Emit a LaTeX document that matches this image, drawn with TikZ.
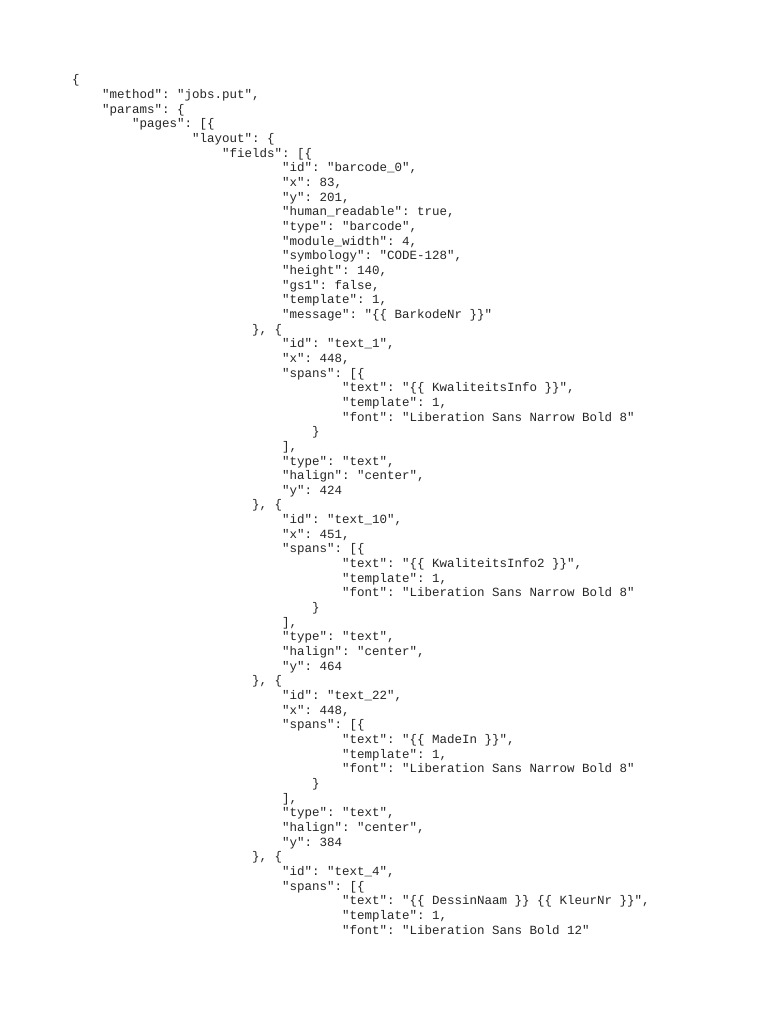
\documentclass[tikz,border=0pt]{standalone}
\usepackage{fontspec}
\setmonofont{Liberation Mono}
\begin{document}
\begin{tikzpicture}[x=1pt,y=1pt,jl/.style={anchor=base west,inner sep=0pt,font=\ttfamily\fontsize{12.5}{14}\selectfont,text=black!85}]
\useasboundingbox[fill=white] (0,0) rectangle (768,-1024);
\newcommand\jline[3]{\node[jl] (l#1) at ({72+7.5*#2},{-84-14.655*#1}) {#3};}
\jline{0}{0}{\{}
\jline{1}{4}{"method": "jobs.put",}
\jline{2}{4}{"params": \{}
\jline{3}{8}{"pages": [\{}
\jline{4}{16}{"layout": \{}
\jline{5}{20}{"fields": [\{}
\jline{6}{28}{"id": "barcode\_0",}
\jline{7}{28}{"x": 83,}
\jline{8}{28}{"y": 201,}
\jline{9}{28}{"human\_readable": true,}
\jline{10}{28}{"type": "barcode",}
\jline{11}{28}{"module\_width": 4,}
\jline{12}{28}{"symbology": "CODE-128",}
\jline{13}{28}{"height": 140,}
\jline{14}{28}{"gs1": false,}
\jline{15}{28}{"template": 1,}
\jline{16}{28}{"message": "\{\{ BarkodeNr \}\}"}
\jline{17}{24}{\}, \{}
\jline{18}{28}{"id": "text\_1",}
\jline{19}{28}{"x": 448,}
\jline{20}{28}{"spans": [\{}
\jline{21}{36}{"text": "\{\{ KwaliteitsInfo \}\}",}
\jline{22}{36}{"template": 1,}
\jline{23}{36}{"font": "Liberation Sans Narrow Bold 8"}
\jline{24}{32}{\}}
\jline{25}{28}{],}
\jline{26}{28}{"type": "text",}
\jline{27}{28}{"halign": "center",}
\jline{28}{28}{"y": 424}
\jline{29}{24}{\}, \{}
\jline{30}{28}{"id": "text\_10",}
\jline{31}{28}{"x": 451,}
\jline{32}{28}{"spans": [\{}
\jline{33}{36}{"text": "\{\{ KwaliteitsInfo2 \}\}",}
\jline{34}{36}{"template": 1,}
\jline{35}{36}{"font": "Liberation Sans Narrow Bold 8"}
\jline{36}{32}{\}}
\jline{37}{28}{],}
\jline{38}{28}{"type": "text",}
\jline{39}{28}{"halign": "center",}
\jline{40}{28}{"y": 464}
\jline{41}{24}{\}, \{}
\jline{42}{28}{"id": "text\_22",}
\jline{43}{28}{"x": 448,}
\jline{44}{28}{"spans": [\{}
\jline{45}{36}{"text": "\{\{ MadeIn \}\}",}
\jline{46}{36}{"template": 1,}
\jline{47}{36}{"font": "Liberation Sans Narrow Bold 8"}
\jline{48}{32}{\}}
\jline{49}{28}{],}
\jline{50}{28}{"type": "text",}
\jline{51}{28}{"halign": "center",}
\jline{52}{28}{"y": 384}
\jline{53}{24}{\}, \{}
\jline{54}{28}{"id": "text\_4",}
\jline{55}{28}{"spans": [\{}
\jline{56}{36}{"text": "\{\{ DessinNaam \}\} \{\{ KleurNr \}\}",}
\jline{57}{36}{"template": 1,}
\jline{58}{36}{"font": "Liberation Sans Bold 12"}
\end{tikzpicture}
\end{document}
